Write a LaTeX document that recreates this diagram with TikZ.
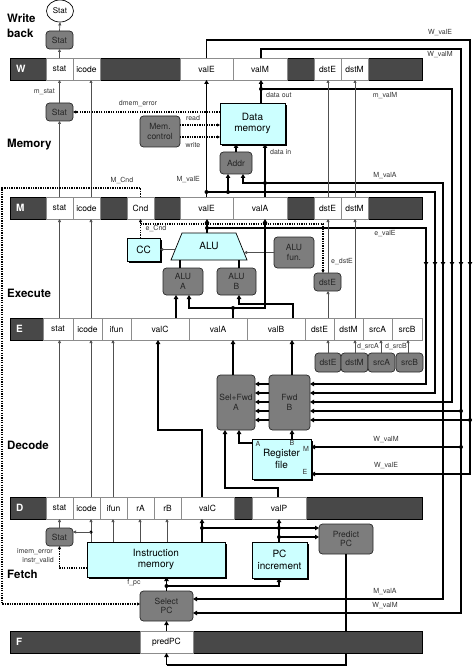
\documentclass[tikz,border=0pt]{standalone}
\usepackage{fontspec}
\setmainfont{TeX Gyre Heros}
\usetikzlibrary{arrows.meta,calc,shapes.geometric}
\definecolor{barc}{RGB}{72,72,72}
\definecolor{boxg}{RGB}{125,125,125}
\definecolor{cyanb}{RGB}{204,255,255}
\definecolor{linec}{RGB}{80,80,80}
\newcommand\regfield[6]{\node[fld,minimum width={#3-#2},minimum height={#5-#4}] (#1) at ({(#2+#3)/2},{(#4+#5)/2}) {#6};}
\newcommand\regbar[5]{\node[bar,minimum width={#3-#2},minimum height={#5-#4}] (#1) at ({(#2+#3)/2},{(#4+#5)/2}) {};}
\newcommand\gbx[6]{\node[gbox,minimum width={#3-#2},minimum height={#5-#4}] (#1) at ({(#2+#3)/2},{(#4+#5)/2}) {#6};}
\newcommand\cbx[6]{\fill[black] ({#2+1.6},{#4+1.6}) rectangle ({#3+1.6},{#5+1.6});
  \node[cbox,minimum width={#3-#2},minimum height={#5-#4}] (#1) at ({(#2+#3)/2},{(#4+#5)/2}) {#6};}
\begin{document}
\begin{tikzpicture}[x=1pt,y=-1pt,
  fld/.style={draw=black!45,fill=white,line width=0.5pt,inner sep=0pt,outer sep=0pt,font=\fontsize{8.5}{9}\selectfont},
  bar/.style={draw=black,fill=barc,line width=0.6pt,inner sep=0pt,outer sep=0pt},
  rname/.style={text=white,font=\bfseries\fontsize{10}{11}\selectfont,inner sep=0pt,anchor=west},
  gbox/.style={draw=black!85,fill=boxg,rounded corners=3.5pt,line width=0.7pt,align=center,inner sep=0pt,outer sep=0pt,font=\fontsize{8.5}{9.5}\selectfont,text=black!85},
  cbox/.style={draw=black,fill=cyanb,line width=0.7pt,align=center,inner sep=0pt,outer sep=0pt,font=\fontsize{10}{11.5}\selectfont},
  thinl/.style={draw=linec,line width=0.7pt},
  thickl/.style={draw=black,line width=1.8pt},
  dotl/.style={draw=black,line width=1.3pt,dash pattern=on 1.3pt off 1.1pt},
  lab/.style={font=\fontsize{7}{8}\selectfont,inner sep=0pt,text=black!80},
  stage/.style={font=\bfseries\fontsize{11.5}{15}\selectfont,align=left,anchor=west,inner sep=0pt},
  ar/.style={-{Triangle[length=3pt,width=3pt]}},
  arT/.style={-{Triangle[length=4pt,width=4.5pt]}},
  jdot/.style={circle,fill=black,inner sep=0pt,minimum size=4pt}]
\useasboundingbox (0,0) rectangle (474,668);

% ---------- stage labels
\node[stage] (sWB) at (7,25.5) {Write\\back};
\node[stage] (sM) at (7,145) {Memory};
\node[stage] (sE) at (7,293) {Execute};
\node[stage] (sD) at (7,445) {Decode};
\node[stage] (sF) at (7,574) {Fetch};

% ---------- Predict PC output (under F bar)
\gbx{pred}{319}{373}{524}{554}{Predict\\PC}
\draw[thickl] (pred.south) |- (166.5,665);

% ---------- pipeline registers
\regbar{Wbar}{10}{422}{58}{80}
\node[rname] (Wn) at (16,69) {W};
\regfield{W-stat}{46}{73}{58}{80}{stat}
\regfield{W-icode}{73}{100}{58}{80}{icode}
\regfield{W-valE}{180}{233}{58}{80}{valE}
\regfield{W-valM}{233}{287}{58}{80}{valM}
\regfield{W-dstE}{314}{341}{58}{80}{dstE}
\regfield{W-dstM}{341}{368}{58}{80}{dstM}

\regbar{Mbar}{10}{422}{197}{219}
\node[rname] (Mn) at (16,208) {M};
\regfield{M-stat}{46}{73}{197}{219}{stat}
\regfield{M-icode}{73}{100}{197}{219}{icode}
\regfield{M-Cnd}{127}{154}{197}{219}{Cnd}
\regfield{M-valE}{180}{233}{197}{219}{valE}
\regfield{M-valA}{233}{287}{197}{219}{valA}
\regfield{M-dstE}{314}{341}{197}{219}{dstE}
\regfield{M-dstM}{341}{368}{197}{219}{dstM}

\regbar{Ebar}{10}{422}{318}{340}
\node[rname] (En) at (16,329) {E};
\regfield{E-stat}{43}{73}{318}{340}{stat}
\regfield{E-icode}{73}{102}{318}{340}{icode}
\regfield{E-ifun}{102}{131}{318}{340}{ifun}
\regfield{E-valC}{131}{189}{318}{340}{valC}
\regfield{E-valA}{189}{247}{318}{340}{valA}
\regfield{E-valB}{247}{305}{318}{340}{valB}
\regfield{E-dstE}{305}{334}{318}{340}{dstE}
\regfield{E-dstM}{334}{363}{318}{340}{dstM}
\regfield{E-srcA}{363}{392}{318}{340}{srcA}
\regfield{E-srcB}{392}{422}{318}{340}{srcB}

\regbar{Dbar}{10}{422}{497}{519}
\node[rname] (Dn) at (16,508) {D};
\regfield{D-stat}{46}{73}{497}{519}{stat}
\regfield{D-icode}{73}{100}{497}{519}{icode}
\regfield{D-ifun}{100}{127}{497}{519}{ifun}
\regfield{D-rA}{127}{154}{497}{519}{rA}
\regfield{D-rB}{154}{181}{497}{519}{rB}
\regfield{D-valC}{181}{234}{497}{519}{valC}
\regfield{D-valP}{252}{306}{497}{519}{valP}

\regbar{Fbar}{10}{422}{631}{653}
\node[rname] (Fn) at (16,642) {F};
\regfield{F-predPC}{140}{193}{631}{653}{predPC}

% ---------- boxes
\node[draw=black,fill=white,ellipse,line width=0.7pt,minimum width=27,minimum height=22,inner sep=0pt,font=\fontsize{8}{9}\selectfont] (wbOut) at (60,11) {Stat};
\gbx{wbStat}{46}{73}{31}{49}{Stat}
\gbx{mStat}{46}{73}{103}{121}{Stat}
\cbx{dmem}{220}{285}{103}{144}{Data\\memory}
\gbx{addr}{220}{252}{152}{174}{Addr}
\gbx{mctl}{140}{180}{116}{147}{Mem.\\control}
\draw[fill=cyanb,line width=0.7pt] (182,233) -- (236,233) -- (247,260) -- (171,260) -- cycle;
\node[font=\fontsize{10}{11}\selectfont] (alu) at (209,246) {ALU};
\cbx{cc}{127}{160}{238}{261}{CC}
\gbx{aluf}{274}{314}{237}{268}{ALU\\fun.}
\gbx{aluA}{163}{203}{268}{295}{ALU\\A}
\gbx{aluB}{217}{256}{268}{295}{ALU\\B}
\gbx{edst}{314}{341}{273}{291}{dstE}
\gbx{selA}{217}{255}{375}{430}{Sel+Fwd\\A}
\gbx{fwdB}{269}{310}{375}{430}{Fwd\\B}
\cbx{rf}{252}{311}{439}{479}{Register\\file}
\node[lab,font=\fontsize{7}{8}\selectfont] (rfA) at (258,444) {A};
\node[lab,font=\fontsize{7}{8}\selectfont] (rfB) at (292,443) {B};
\node[lab,font=\fontsize{7}{8}\selectfont] (rfM) at (306,449) {M};
\node[lab,font=\fontsize{7}{8}\selectfont] (rfE) at (305,472) {E};
\gbx{ddstE}{315}{341}{353}{372}{dstE}
\gbx{ddstM}{341}{368}{353}{372}{dstM}
\gbx{dsrcA}{368}{395}{353}{372}{srcA}
\gbx{dsrcB}{396}{423}{353}{372}{srcB}
\gbx{fStat}{46}{73}{528}{546}{Stat}
\cbx{imem}{87}{225}{542}{577}{Instruction\\memory}
\cbx{pcinc}{252}{307}{542}{578}{PC\\increment}
\gbx{selpc}{140}{193}{591}{621}{Select\\PC}

% ---------- write back
\draw[thinl,ar] (W-stat.north) -- (wbStat.south);
\draw[thinl,ar] (wbStat.north) -- (wbOut.south);

% ---------- memory
\draw[thinl,ar] (M-stat.north) -- (mStat.south);
\draw[thinl,ar] (mStat.north) -- (W-stat.south);
\node[lab,anchor=east] (lmstat) at (55,92) {m\_stat};
\draw[thinl,ar] (M-icode.north -| 91,0) -- (W-icode.south -| 91,0);
\draw[dotl,ar] (mStat.east -| dmem.west) -- (mStat.east);
\node[lab] (ldme) at (138,104) {dmem\_error};
\draw[dotl,ar] (mctl.east |- 0,125) -- (dmem.west |- 0,125);
\draw[dotl,ar] (mctl.east |- 0,137) -- (dmem.west |- 0,137);
\node[lab] (lread) at (193,118) {read};
\node[lab] (lwrite) at (193,145) {write};
\draw[thickl,arT] (addr.north) -- (dmem.south -| addr.north);
\draw[thickl,arT] (dmem.north -| 261,0) -- (W-valM.south -| 261,0);
\node[jdot] (j1) at (261,89) {};
\node[lab,anchor=west] (ldout) at (266,95) {data out};
\node[lab] (lmvm) at (385,96) {m\_valM};
\draw[thickl,arT] (j1.center) -| (452,402) -- (fwdB.east |- 0,402);
\draw[thickl,arT] (M-valA.north -| 265,0) -- (dmem.south -| 265,0);
\node[lab,anchor=west] (ldin) at (270,152) {data in};
\node[jdot] (j2) at (265,183) {};
\draw[thickl,arT] (j2.center) -| (addr.south -| 243,0);
\draw[thickl,arT] (j2.center) -| (443,599) -- (selpc.east |- 0,599);
\node[lab] (lmva) at (385,176) {M\_valA};
\draw[thickl,arT] (M-valE.north) -- (W-valE.south);
\node[jdot] (j3) at (206.5,192) {};
\node[jdot] (j4) at (228,192) {};
\draw[thickl,arT] (j3.center) -| (435,393) -- (fwdB.east |- 0,393);
\draw[thickl,arT] (j4.center) -- (addr.south -| j4);
\node[lab,anchor=east] (lmve) at (200,180) {M\_valE};
\draw[thickl,arT] (W-valE.north) |- (470,40) -- (470,474) -- (rf.east |- 0,474);
\node[lab] (lwve1) at (440,33) {W\_valE};
\node[jdot] (j5) at (470,420) {};
\draw[thickl,arT] (j5.center) -- (fwdB.east |- 0,420);
\draw[thickl,arT] (W-valM.north -| 261,0) |- (461,49) -- (461,613) -- (selpc.east |- 0,613);
\node[lab] (lwvm1) at (440,55) {W\_valM};
\node[jdot] (j6) at (461,411) {};
\node[jdot] (j7) at (461,447) {};
\draw[thickl,arT] (j6.center) -- (fwdB.east |- 0,411);
\draw[thickl,arT] (j7.center) -- (rf.east |- 0,447);
\node[lab] (lwvm2) at (386,440) {W\_valM};
\node[lab] (lwve2) at (386,466) {W\_valE};
\node[lab] (lmva2) at (385,592) {M\_valA};
\node[lab] (lwvm3) at (385,606) {W\_valM};
\node[lab] (lmcnd) at (122,181) {M\_Cnd};
\draw[dotl,ar] (M-Cnd.north) |- (2,188) |- (selpc.west |- 0,604);
% direction markers on the forwarding buses
\foreach \xx in {426,435,443,452,461,470} {\draw[thickl,arT] (\xx,258) -- (\xx,266);}

% ---------- execute
\draw[thickl] (aluA.north -| 180,0) -- (180,260);
\draw[thickl] (aluB.north -| 239,0) -- (239,260);
\draw[thinl,ar] (175.5,249.5) -- (cc.east);
\draw[thinl,ar] (aluf.west) -- (244,252.5);
\draw[thickl,arT] (207,233) -- (M-valE.south -| 207,0);
\node[jdot] (j8) at (207,228) {};
\draw[thickl,arT] (j8.center) -| (426,384) -- (fwdB.east |- 0,384);
\node[lab] (leve) at (385,234) {e\_valE};
\draw[dotl,ar] (cc.north -| M-Cnd.south) -- (M-Cnd.south);
\draw[dotl,ar] (140.5,224) -| (323,273);
\node[lab] (lecnd) at (156,229) {e\_Cnd};
\draw[thickl,arT] (E-valC.north -| 176,0) -- (aluA.south -| 176,0);
\node[jdot] (j9) at (233,308) {};
\draw[thickl] (E-valA.north -| 233,0) -- (j9.center);
\draw[thickl,arT] (j9.center) -| (aluA.south -| 189,0);
\draw[thickl,arT] (j9.center) -| (M-valA.south -| 265,0);
\draw[thickl,arT] (E-valB.north -| 293,0) |- (239,304) -- (aluB.south -| 239,0);
\draw[thinl,ar] (E-dstE.north -| 328,0) -- (edst.south -| 328,0);
\draw[thinl,ar] (edst.north -| 328,0) -- (M-dstE.south -| 328,0);
\node[lab] (ledst) at (342,262) {e\_dstE};
\draw[thinl,ar] (E-dstM.north -| 355,0) -- (M-dstM.south -| 355,0);
\draw[thinl,ar] (M-dstE.north -| 328,0) -- (W-dstE.south -| 328,0);
\draw[thinl,ar] (M-dstM.north -| 355,0) -- (W-dstM.south -| 355,0);
\draw[thinl,ar] (E-stat.north -| M-stat.south) -- (M-stat.south);
\draw[thinl,ar] (E-icode.north -| 91,0) -- (M-icode.south -| 91,0);

% ---------- decode
\draw[thickl,arT] (selA.north -| 233,0) -- (E-valA.south -| 233,0);
\draw[thickl,arT] (fwdB.north -| 292,0) -- (E-valB.south -| 292,0);
\foreach \yy in {384,393,402,411,420} {\draw[thickl,arT] (fwdB.west |- 0,\yy) -- (selA.east |- 0,\yy);}
\draw[thickl,arT] (rf.west |- 0,443) -| (selA.south -| 239,0);
\draw[thickl,arT] (rf.north -| 292,0) -- (fwdB.south -| 292,0);
\draw[thickl,arT] (D-valP.north -| 278,0) |- (225,488) -- (selA.south -| 225,0);
\draw[thickl,arT] (D-valC.north -| 202,0) |- (158,430) -- (E-valC.south -| 158,0);
\draw[thinl,ar] (D-stat.north) -- (E-stat.south -| D-stat.north);
\draw[thinl,ar] (D-icode.north -| 91,0) -- (E-icode.south -| 91,0);
\draw[thinl,ar] (D-ifun.north -| 113,0) -- (E-ifun.south -| 113,0);
\draw[thinl,ar] (ddstE.north -| 328,0) -- (E-dstE.south -| 328,0);
\draw[thinl,ar] (ddstM.north -| 355,0) -- (E-dstM.south -| 355,0);
\draw[thinl,ar] (dsrcA.north -| 381,0) -- (E-srcA.south -| 381,0);
\draw[thinl,ar] (dsrcB.north -| 408,0) -- (E-srcB.south -| 408,0);
\node[lab] (ldsa) at (368,346.5) {d\_srcA};
\node[lab] (ldsb) at (396,346.5) {d\_srcB};

% ---------- fetch
\draw[thinl,ar] (fStat.north) -- (D-stat.south);
\draw[thinl,ar] (imem.north -| 91,0) -- (D-icode.south -| 91,0);
\node[jdot,minimum size=3.5pt] (j10) at (91,532) {};
\draw[thinl,ar] (j10.center) -- (fStat.east |- 0,532);
\draw[thinl,ar] (imem.north -| 113,0) -- (D-ifun.south -| 113,0);
\draw[thinl,ar] (imem.north -| 140,0) -- (D-rA.south -| 140,0);
\draw[thinl,ar] (imem.north -| 167,0) -- (D-rB.south -| 167,0);
\draw[thickl,arT] (imem.north -| 202,0) -- (D-valC.south -| 202,0);
\node[jdot] (j11) at (202,528) {};
\draw[thickl,arT] (j11.center) -- (pred.west |- 0,528);
\draw[thickl,arT] (pcinc.north -| 279,0) -- (D-valP.south -| 279,0);
\node[jdot] (j12) at (279,528) {};
\node[jdot] (j13) at (279,537) {};
\draw[thickl,arT] (j13.center) -- (pred.west |- 0,537);
\draw[dotl,ar] (imem.west |- 0,568) -| (fStat.south);
\node[lab,anchor=east] (limerr) at (53,552) {imem\_error};
\node[lab,anchor=east] (linstr) at (54,561) {instr\_valid};
\draw[thickl,arT] (selpc.north) -- (imem.south -| selpc.north);
\node[jdot] (j14) at (166.5,586) {};
\draw[thickl,arT] (j14.center) -| (pcinc.south -| 279,0);
\node[lab] (lfpc) at (134,583) {f\_pc};
\draw[thickl,arT] (F-predPC.north) -- (selpc.south);
\draw[thickl,arT] (166.5,665) -- (F-predPC.south);
\end{tikzpicture}
\end{document}
